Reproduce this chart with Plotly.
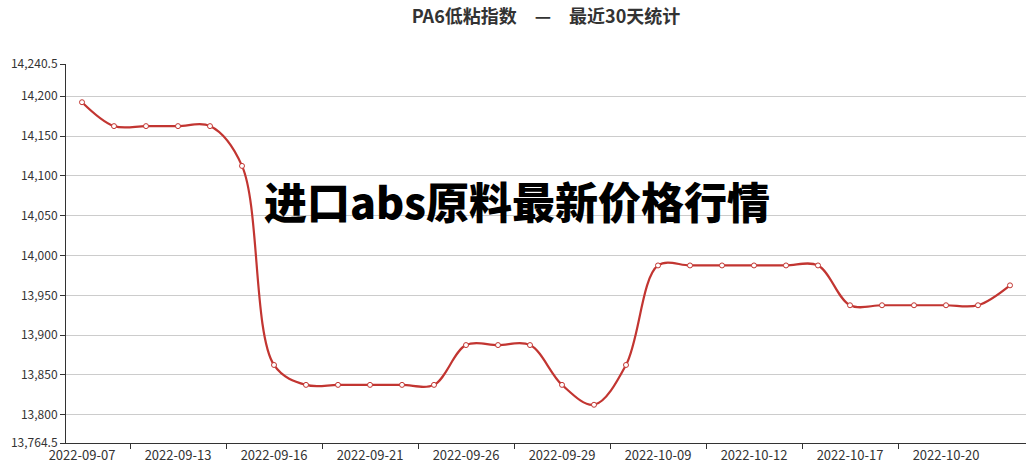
import plotly.graph_objects as go

# trading days (last 30)
dates = [
    "2022-09-07", "2022-09-08", "2022-09-09", "2022-09-13", "2022-09-14",
    "2022-09-15", "2022-09-16", "2022-09-19", "2022-09-20", "2022-09-21",
    "2022-09-22", "2022-09-23", "2022-09-26", "2022-09-27", "2022-09-28",
    "2022-09-29", "2022-09-30", "2022-10-08", "2022-10-09", "2022-10-10",
    "2022-10-11", "2022-10-12", "2022-10-13", "2022-10-14", "2022-10-17",
    "2022-10-18", "2022-10-19", "2022-10-20", "2022-10-21", "2022-10-24",
]
index_values = [
    14192.5, 14162.5, 14162.5, 14162.5, 14162.5,
    14112.5, 13862.5, 13837.5, 13837.5, 13837.5,
    13837.5, 13837.5, 13887.5, 13887.5, 13887.5,
    13837.5, 13812.5, 13862.5, 13987.5, 13987.5,
    13987.5, 13987.5, 13987.5, 13987.5, 13937.5,
    13937.5, 13937.5, 13937.5, 13937.5, 13962.5,
]
y_min = 13764.5
y_max = 14240.5
y_ticks = [y_min, 13800, 13850, 13900, 13950, 14000, 14050, 14100, 14150, 14200, y_max]

title_text = "PA6低粘指数　—　最近30天统计"
watermark = "进口abs原料最新价格行情"

font_family = "Noto Sans CJK SC, Open Sans, sans-serif"
red = "#c23531"

xs = list(range(len(dates)))
label_idx = xs[::3]
tick_pos = [i + 1.5 for i in xs[::3]][:-1]

fig = go.Figure()
fig.add_trace(go.Scatter(
    x=xs,
    y=index_values,
    mode="lines+markers",
    line=dict(color=red, width=2.2, shape="spline", smoothing=1),
    marker=dict(symbol="circle", size=5, color="white", line=dict(color=red, width=1)),
    text=dates,
    hovertemplate="%{text}<br>%{y}<extra></extra>",
    showlegend=False,
))
# empty trace to carry the tick-mark axis
fig.add_trace(go.Scatter(x=[], y=[], xaxis="x2", showlegend=False, hoverinfo="skip"))

fig.update_layout(
    width=1034,
    height=472,
    margin=dict(l=66, r=8, t=64, b=29),
    paper_bgcolor="white",
    plot_bgcolor="white",
    font=dict(family=font_family, size=12, color="#333"),
    title=dict(
        text=f"<b>{title_text}</b>",
        x=0.5, xref="paper", xanchor="center",
        y=0.965, yanchor="middle",
        font=dict(size=18, color="#333", family=font_family),
    ),
    xaxis=dict(
        range=[-0.5, len(dates) - 0.5],
        tickvals=label_idx,
        ticktext=[dates[i] for i in label_idx],
        ticks="",
        showgrid=False,
        zeroline=False,
        showline=True,
        linecolor="#333",
        linewidth=1,
        tickfont=dict(size=13, color="#333"),
    ),
    xaxis2=dict(
        overlaying="x",
        matches="x",
        range=[-0.5, len(dates) - 0.5],
        tickvals=tick_pos,
        ticks="outside",
        ticklen=5,
        tickcolor="#333",
        showticklabels=False,
        showgrid=False,
        zeroline=False,
        showline=False,
        side="bottom",
    ),
    yaxis=dict(
        range=[y_min, y_max],
        tickvals=y_ticks,
        ticktext=[f"{v:,.1f}" if v % 1 else f"{int(v):,}" for v in y_ticks],
        ticks="outside",
        ticklen=5,
        tickcolor="#333",
        showline=True,
        linecolor="#333",
        linewidth=1,
        showgrid=True,
        gridcolor="#ccc",
        gridwidth=1,
        zeroline=False,
        tickfont=dict(size=12, color="#333"),
    ),
    annotations=[dict(
        text=watermark,
        xref="paper", yref="paper",
        x=0.47, y=0.641,
        xanchor="center", yanchor="middle",
        showarrow=False,
        font=dict(size=43, color="black", family="Noto Sans CJK SC", weight=900),
    )],
)

fig.write_html(
    "out.html",
    config={"displayModeBar": False},
    post_script="document.body.style.margin='0';",
)
